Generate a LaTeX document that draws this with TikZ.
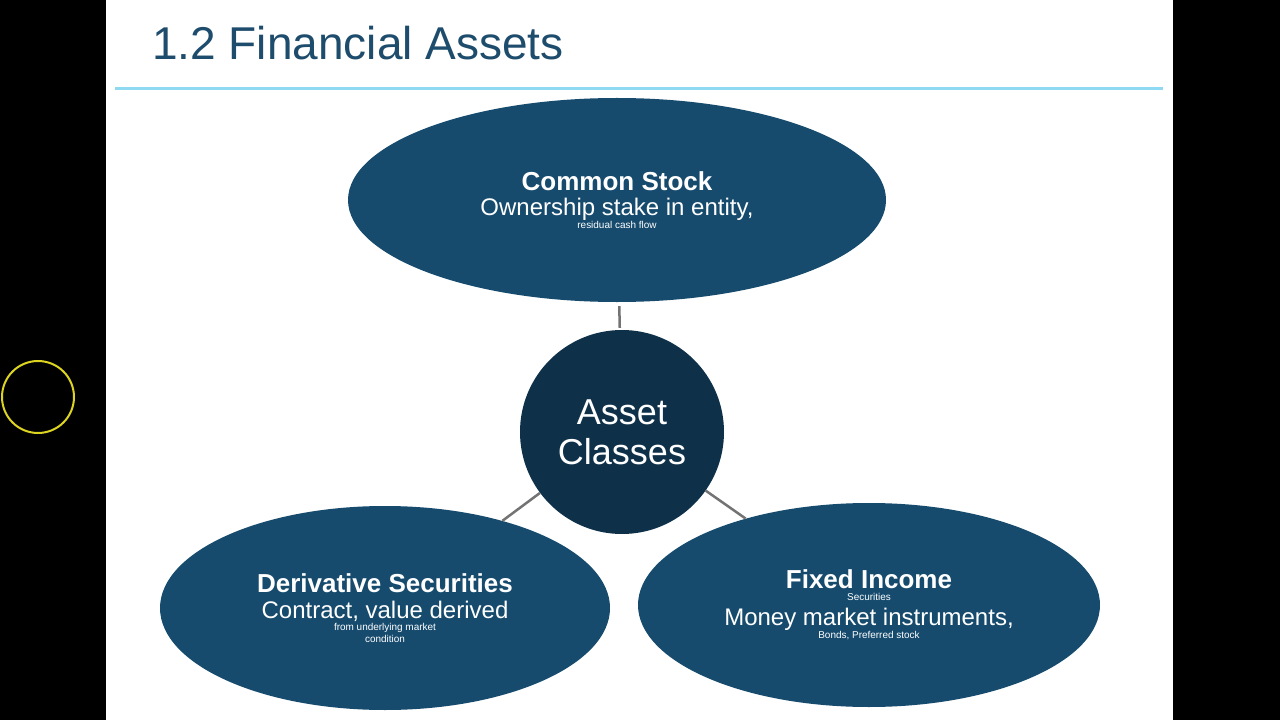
\documentclass[tikz,border=0pt]{standalone}
\usepackage{fontspec}
\setmainfont{Liberation Sans}
\usetikzlibrary{positioning,shapes.geometric}
\definecolor{slideTeal}{HTML}{164B6E}
\definecolor{hubTeal}{HTML}{0E3049}
\definecolor{titleTeal}{HTML}{1D4C6C}
\definecolor{ruleBlue}{HTML}{8FD9F2}
\begin{document}
\begin{tikzpicture}[
    x=1bp,y=-1bp,
    asset/.style={
      ellipse,
      fill=slideTeal,
      text=white,
      align=center,
      inner sep=0pt
    },
    hub/.style={
      circle,
      fill=hubTeal,
      text=white,
      align=center,
      inner sep=0pt,
      minimum size=204bp,
      font=\fontsize{36bp}{40bp}\selectfont
    },
    link/.style={
      draw=black!55,
      line width=2.5bp
    }
  ]
  % Background
  \fill[black] (0,0) rectangle (1280,720);
  \fill[white] (106,0) rectangle (1173,720);
  \useasboundingbox (0,0) rectangle (1280,720);
  \draw[yellow!85!black, line width=2bp] (38,397) circle (36);

  % Title
  \node[anchor=base west, text=titleTeal, inner sep=0pt,
    font=\fontsize{46bp}{50bp}\selectfont] (title) at (152,60) {1.2 Financial Assets};
  \draw[ruleBlue, line width=3bp] (115,89) -- (1163,89);

  % Hub
  \node[hub] (classes) at (622,432) {Asset\\Classes};

  % Asset classes
  \node[asset, minimum width=538bp, minimum height=204bp] (stock) at (617,200)
    {\fontsize{26bp}{30bp}\selectfont\bfseries Common Stock\\[6bp]
     \fontsize{24bp}{38bp}\selectfont Ownership stake in entity,\\residual cash flow};
  \node[asset, minimum width=450bp, minimum height=204bp] (deriv) at (385,608)
    {\fontsize{26bp}{30bp}\selectfont\bfseries Derivative Securities\\[8bp]
     \fontsize{24bp}{27bp}\selectfont Contract, value derived\\from underlying market\\condition};
  \node[asset, minimum width=462bp, minimum height=204bp] (fixed) at (869,605)
    {\fontsize{26bp}{31bp}\selectfont\bfseries Fixed Income\\Securities\\[6bp]
     \fontsize{24bp}{39bp}\selectfont Money market instruments,\\Bonds, Preferred stock};

  % Connectors
  \draw[link, shorten <=2bp, shorten >=4bp] (classes) -- (stock);
  \draw[link] (classes) -- (deriv);
  \draw[link] (classes) -- (fixed);
\end{tikzpicture}
\end{document}
